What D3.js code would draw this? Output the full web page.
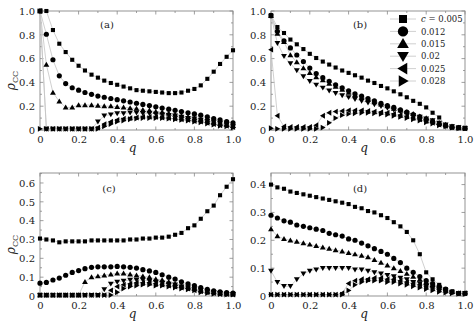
<!DOCTYPE html>
<html>
<head>
<meta charset="utf-8">
<script src="https://cdn.jsdelivr.net/npm/d3@7/dist/d3.min.js"></script>
<style>
  html, body { margin: 0; padding: 0; background: #fff; }
  svg { display: block; }
  svg text { font-family: "DejaVu Serif", "Liberation Serif", serif; fill: #222; }
</style>
</head>
<body>
<svg id="chart" width="474" height="333"></svg>
<script>
// q grid shared by all panels
const qValues = [0, 0.033, 0.067, 0.1, 0.133, 0.167, 0.2, 0.233, 0.267, 0.3,
  0.333, 0.367, 0.4, 0.433, 0.467, 0.5, 0.533, 0.567, 0.6, 0.633,
  0.667, 0.7, 0.733, 0.767, 0.8, 0.833, 0.867, 0.9, 0.933, 0.967, 1.0];

const cLabels = ["c = 0.005", "0.012", "0.015", "0.02", "0.025", "0.028"];
const markerKinds = ["square", "circle", "up", "down", "left", "right"];

// panel (a)
const a005 = [1.0, 1.0, 0.84, 0.725, 0.655, 0.59, 0.54, 0.5, 0.465, 0.44, 0.415, 0.395, 0.38, 0.365, 0.35, 0.335, 0.33, 0.325, 0.32, 0.315, 0.31, 0.31, 0.315, 0.33, 0.345, 0.375, 0.43, 0.49, 0.555, 0.615, 0.67];
const a012 = [1.0, 0.805, 0.59, 0.455, 0.39, 0.355, 0.335, 0.315, 0.3, 0.285, 0.275, 0.265, 0.255, 0.245, 0.235, 0.225, 0.215, 0.205, 0.195, 0.185, 0.175, 0.165, 0.155, 0.145, 0.135, 0.125, 0.11, 0.095, 0.085, 0.07, 0.06];
const a015 = [1.0, 0.55, 0.315, 0.24, 0.19, 0.19, 0.21, 0.21, 0.21, 0.205, 0.2, 0.2, 0.195, 0.19, 0.185, 0.18, 0.17, 0.165, 0.155, 0.15, 0.14, 0.13, 0.12, 0.11, 0.1, 0.09, 0.08, 0.065, 0.055, 0.045, 0.035];
const a020 = [1.0, 0.01, 0.01, 0.01, 0.01, 0.01, 0.01, 0.01, 0.01, 0.07, 0.12, 0.13, 0.14, 0.14, 0.145, 0.145, 0.14, 0.14, 0.135, 0.13, 0.125, 0.12, 0.11, 0.1, 0.095, 0.085, 0.075, 0.065, 0.055, 0.045, 0.03];
const a025 = [1.0, 0.01, 0.01, 0.01, 0.01, 0.01, 0.01, 0.01, 0.01, 0.02, 0.05, 0.07, 0.085, 0.095, 0.1, 0.105, 0.11, 0.11, 0.11, 0.105, 0.1, 0.095, 0.09, 0.085, 0.075, 0.07, 0.06, 0.05, 0.04, 0.035, 0.025];
const a028 = [0.01, 0.01, 0.01, 0.01, 0.01, 0.01, 0.01, 0.01, 0.01, 0.01, 0.03, 0.05, 0.07, 0.08, 0.09, 0.095, 0.1, 0.1, 0.1, 0.1, 0.095, 0.09, 0.085, 0.08, 0.07, 0.065, 0.055, 0.045, 0.035, 0.03, 0.02];

// panel (b)
const b005 = [0.965, 0.865, 0.815, 0.76, 0.72, 0.68, 0.64, 0.605, 0.575, 0.55, 0.525, 0.5, 0.48, 0.46, 0.44, 0.415, 0.395, 0.37, 0.35, 0.325, 0.3, 0.275, 0.245, 0.22, 0.19, 0.145, 0.105, 0.04, 0.02, 0.015, 0.015];
const b012 = [0.96, 0.83, 0.75, 0.69, 0.63, 0.575, 0.52, 0.475, 0.44, 0.41, 0.38, 0.355, 0.33, 0.305, 0.285, 0.265, 0.245, 0.225, 0.205, 0.19, 0.17, 0.15, 0.13, 0.11, 0.09, 0.07, 0.05, 0.035, 0.025, 0.02, 0.015];
const b015 = [0.96, 0.81, 0.74, 0.63, 0.57, 0.52, 0.48, 0.445, 0.42, 0.39, 0.365, 0.34, 0.315, 0.295, 0.275, 0.255, 0.235, 0.215, 0.2, 0.18, 0.165, 0.15, 0.135, 0.115, 0.1, 0.08, 0.06, 0.045, 0.03, 0.02, 0.015];
const b020 = [0.96, 0.73, 0.62, 0.56, 0.5, 0.45, 0.41, 0.38, 0.355, 0.33, 0.31, 0.29, 0.275, 0.26, 0.245, 0.23, 0.215, 0.2, 0.185, 0.17, 0.155, 0.14, 0.125, 0.11, 0.095, 0.08, 0.06, 0.045, 0.03, 0.02, 0.015];
const b025 = [0.675, 0.12, 0.03, 0.025, 0.025, 0.025, 0.025, 0.04, 0.12, 0.145, 0.155, 0.16, 0.165, 0.165, 0.165, 0.16, 0.155, 0.15, 0.145, 0.135, 0.125, 0.115, 0.1, 0.09, 0.075, 0.06, 0.045, 0.035, 0.025, 0.02, 0.015];
const b028 = [0.015, 0.01, 0.01, 0.01, 0.01, 0.01, 0.01, 0.01, 0.02, 0.06, 0.1, 0.125, 0.135, 0.14, 0.145, 0.145, 0.14, 0.135, 0.13, 0.12, 0.11, 0.1, 0.09, 0.08, 0.065, 0.055, 0.04, 0.03, 0.02, 0.015, 0.015];

// panel (c)
const c005 = [0.305, 0.3, 0.295, 0.285, 0.29, 0.29, 0.29, 0.29, 0.295, 0.295, 0.295, 0.295, 0.295, 0.295, 0.3, 0.3, 0.305, 0.305, 0.31, 0.31, 0.315, 0.325, 0.335, 0.36, 0.375, 0.41, 0.45, 0.48, 0.535, 0.58, 0.62];
const c012 = [0.068, 0.072, 0.085, 0.095, 0.11, 0.125, 0.135, 0.145, 0.152, 0.155, 0.155, 0.155, 0.157, 0.155, 0.152, 0.148, 0.14, 0.133, 0.125, 0.113, 0.1, 0.09, 0.075, 0.065, 0.055, 0.045, 0.035, 0.028, 0.022, 0.018, 0.015];
const c015 = [0.005, 0.005, 0.005, 0.005, 0.005, 0.005, 0.005, 0.075, 0.1, 0.105, 0.11, 0.115, 0.12, 0.12, 0.115, 0.11, 0.105, 0.1, 0.09, 0.085, 0.075, 0.065, 0.055, 0.05, 0.04, 0.03, 0.025, 0.02, 0.015, 0.012, 0.01];
const c020 = [0.005, 0.005, 0.005, 0.005, 0.005, 0.005, 0.005, 0.005, 0.005, 0.005, 0.035, 0.065, 0.075, 0.08, 0.085, 0.085, 0.085, 0.08, 0.075, 0.07, 0.065, 0.06, 0.05, 0.045, 0.035, 0.03, 0.025, 0.02, 0.015, 0.01, 0.01];
const c025 = [0.005, 0.005, 0.005, 0.005, 0.005, 0.005, 0.005, 0.005, 0.005, 0.005, 0.005, 0.03, 0.05, 0.06, 0.065, 0.07, 0.07, 0.07, 0.065, 0.06, 0.055, 0.05, 0.045, 0.04, 0.03, 0.025, 0.02, 0.015, 0.01, 0.01, 0.008];
const c028 = [0.005, 0.005, 0.005, 0.005, 0.005, 0.005, 0.005, 0.005, 0.005, 0.005, 0.005, 0.005, 0.02, 0.04, 0.05, 0.055, 0.06, 0.06, 0.055, 0.055, 0.05, 0.045, 0.04, 0.035, 0.03, 0.02, 0.015, 0.012, 0.01, 0.008, 0.008];

// panel (d)
const d005 = [0.4, 0.39, 0.385, 0.375, 0.37, 0.365, 0.36, 0.355, 0.35, 0.345, 0.34, 0.335, 0.33, 0.32, 0.315, 0.305, 0.3, 0.29, 0.28, 0.265, 0.25, 0.23, 0.2, 0.15, 0.085, 0.06, 0.04, 0.025, 0.015, 0.01, 0.01];
const d012 = [0.29, 0.28, 0.27, 0.265, 0.255, 0.25, 0.245, 0.24, 0.235, 0.225, 0.22, 0.215, 0.205, 0.2, 0.19, 0.18, 0.17, 0.16, 0.15, 0.135, 0.12, 0.1, 0.085, 0.07, 0.055, 0.045, 0.035, 0.025, 0.015, 0.01, 0.01];
const d015 = [0.24, 0.215, 0.205, 0.2, 0.195, 0.19, 0.185, 0.18, 0.175, 0.17, 0.165, 0.16, 0.155, 0.15, 0.145, 0.14, 0.13, 0.12, 0.11, 0.1, 0.09, 0.08, 0.07, 0.06, 0.05, 0.04, 0.03, 0.02, 0.015, 0.01, 0.01];
const d020 = [0.09, 0.05, 0.035, 0.035, 0.06, 0.08, 0.09, 0.095, 0.1, 0.1, 0.1, 0.1, 0.1, 0.095, 0.095, 0.09, 0.085, 0.08, 0.075, 0.07, 0.065, 0.06, 0.05, 0.045, 0.035, 0.03, 0.025, 0.02, 0.015, 0.01, 0.01];
const d025 = [0.005, 0.005, 0.005, 0.005, 0.005, 0.005, 0.005, 0.005, 0.005, 0.005, 0.005, 0.01, 0.045, 0.055, 0.06, 0.06, 0.065, 0.065, 0.06, 0.06, 0.055, 0.05, 0.045, 0.04, 0.035, 0.03, 0.025, 0.02, 0.015, 0.01, 0.01];
const d028 = [0.005, 0.005, 0.005, 0.005, 0.005, 0.005, 0.005, 0.005, 0.005, 0.005, 0.005, 0.005, 0.02, 0.04, 0.05, 0.055, 0.055, 0.055, 0.05, 0.05, 0.045, 0.04, 0.035, 0.03, 0.025, 0.02, 0.015, 0.012, 0.01, 0.008, 0.008];

const xTicks = [0, 0.2, 0.4, 0.6, 0.8, 1.0];
const yTicksTop = [0, 0.2, 0.4, 0.6, 0.8, 1.0];
const yTicksC = [0, 0.1, 0.2, 0.3, 0.4, 0.5, 0.6];
const yTicksD = [0, 0.1, 0.2, 0.3, 0.4];

const FONT = "DejaVu Serif, Liberation Serif, serif";
const svg = d3.select("#chart");

// marker path generator, centred on (0,0)
function markerPath(kind, s) {
  const p = d3.path();
  if (kind === "square") {
    p.rect(-s / 2, -s / 2, s, s);
  } else if (kind === "circle") {
    p.moveTo(s * 0.6, 0);
    p.arc(0, 0, s * 0.6, 0, 2 * Math.PI);
  } else {
    const h = s * 1.1, w = s * 0.68;
    let pts;
    if (kind === "up") pts = [[0, -h * 0.6], [w, h * 0.45], [-w, h * 0.45]];
    if (kind === "down") pts = [[0, h * 0.6], [w, -h * 0.45], [-w, -h * 0.45]];
    if (kind === "left") pts = [[-h * 0.6, 0], [h * 0.45, -w], [h * 0.45, w]];
    if (kind === "right") pts = [[h * 0.6, 0], [-h * 0.45, -w], [-h * 0.45, w]];
    p.moveTo(pts[0][0], pts[0][1]);
    p.lineTo(pts[1][0], pts[1][1]);
    p.lineTo(pts[2][0], pts[2][1]);
    p.closePath();
  }
  return p.toString();
}

function drawPanel(cfg) {
  const x = d3.scaleLinear().domain([0, 1]).range([cfg.x0, cfg.x1]);
  const y = d3.scaleLinear().domain([0, cfg.ymax]).range([cfg.y1, cfg.y0]);
  const g = svg.append("g");

  // inward ticks on all four sides
  const yMinor = d3.range(0, cfg.ymax + 1e-9, cfg.minorStep);
  const xMinor = d3.range(0, 1.0001, 0.1);
  const tickG = g.append("g").attr("stroke", "#888").attr("stroke-width", 0.8);
  xMinor.forEach(v => {
    const major = xTicks.some(t => Math.abs(t - v) < 1e-6);
    const len = major ? 3.5 : 2;
    tickG.append("line").attr("x1", x(v)).attr("x2", x(v)).attr("y1", cfg.y1).attr("y2", cfg.y1 - len);
    tickG.append("line").attr("x1", x(v)).attr("x2", x(v)).attr("y1", cfg.y0).attr("y2", cfg.y0 + len);
  });
  yMinor.forEach(v => {
    const major = cfg.yTicks.some(t => Math.abs(t - v) < 1e-6);
    const len = major ? 3.5 : 2;
    tickG.append("line").attr("y1", y(v)).attr("y2", y(v)).attr("x1", cfg.x0).attr("x2", cfg.x0 + len);
    tickG.append("line").attr("y1", y(v)).attr("y2", y(v)).attr("x1", cfg.x1).attr("x2", cfg.x1 - len);
  });

  // frame
  g.append("rect")
    .attr("x", cfg.x0).attr("y", cfg.y0)
    .attr("width", cfg.x1 - cfg.x0).attr("height", cfg.y1 - cfg.y0)
    .attr("fill", "none").attr("stroke", "#888").attr("stroke-width", 0.9);

  // tick labels via axes (tick lines hidden, labels only)
  const xAxis = d3.axisBottom(x).tickValues(xTicks).tickSize(0).tickPadding(6)
    .tickFormat(d => d === 0 ? "0" : d3.format(".1f")(d));
  const xa = g.append("g").attr("transform", `translate(0,${cfg.y1})`).call(xAxis)
    .attr("font-family", FONT);
  xa.select(".domain").remove();
  xa.selectAll("text").attr("font-size", 10).attr("fill", "#222");

  const yAxis = d3.axisLeft(y).tickValues(cfg.yTicks).tickSize(0).tickPadding(5)
    .tickFormat(d => d === 0 ? "0" : d3.format(".1f")(d));
  const ya = g.append("g").attr("transform", `translate(${cfg.x0},0)`).call(yAxis)
    .attr("font-family", FONT);
  ya.select(".domain").remove();
  ya.selectAll("text").attr("font-size", 10).attr("fill", "#222");

  // axis titles
  g.append("text")
    .attr("x", (cfg.x0 + cfg.x1) / 2 - 4).attr("y", cfg.y1 + 22)
    .attr("text-anchor", "middle").attr("font-size", 12).attr("font-style", "italic")
    .text("q");
  if (cfg.showYTitle) {
    const yt = g.append("text")
      .attr("transform", `translate(15,${(cfg.y0 + cfg.y1) / 2 + 10}) rotate(-90)`)
      .attr("text-anchor", "middle").attr("font-size", 12);
    yt.append("tspan").attr("font-style", "italic").text("ρ");
    yt.append("tspan").attr("font-size", 8).attr("dy", 2.5).text("CC");
  }

  // panel letter
  g.append("text")
    .attr("x", cfg.labelX).attr("y", cfg.labelY)
    .attr("text-anchor", "middle").attr("font-size", 10)
    .text(cfg.label);

  // connecting lines then markers
  const line = d3.line().x((d, i) => x(qValues[i])).y(d => y(d));
  cfg.series.forEach(vals => {
    g.append("path").datum(vals)
      .attr("d", line).attr("fill", "none")
      .attr("stroke", "#c4c4c4").attr("stroke-width", 0.8);
  });
  cfg.series.forEach((vals, si) => {
    const kind = markerKinds[si];
    g.append("g").selectAll("path").data(vals).join("path")
      .attr("transform", (d, i) => `translate(${x(qValues[i])},${y(d)})`)
      .attr("d", markerPath(kind, kind === "square" ? 4.1 : 4.3))
      .attr("fill", "#000");
  });
}

drawPanel({ x0: 40, x1: 233, y0: 11, y1: 130, ymax: 1.0, yTicks: yTicksTop, minorStep: 0.1,
  series: [a005, a012, a015, a020, a025, a028], label: "(a)", labelX: 107, labelY: 28, showYTitle: true });
drawPanel({ x0: 271, x1: 465, y0: 11, y1: 130, ymax: 1.0, yTicks: yTicksTop, minorStep: 0.1,
  series: [b005, b012, b015, b020, b025, b028], label: "(b)", labelX: 360, labelY: 28, showYTitle: false });
drawPanel({ x0: 40, x1: 233, y0: 173, y1: 296, ymax: 0.653, yTicks: yTicksC, minorStep: 0.05,
  series: [c005, c012, c015, c020, c025, c028], label: "(c)", labelX: 109, labelY: 192, showYTitle: true });
drawPanel({ x0: 271, x1: 465, y0: 173, y1: 296, ymax: 0.4416, yTicks: yTicksD, minorStep: 0.05,
  series: [d005, d012, d015, d020, d025, d028], label: "(d)", labelX: 360, labelY: 192, showYTitle: false });

// legend inside panel (b)
const legend = svg.append("g");
const legendRows = d3.scaleLinear().domain([0, 5]).range([19, 81]);
cLabels.forEach((lab, i) => {
  const yy = legendRows(i);
  legend.append("line").attr("x1", 390).attr("x2", 416).attr("y1", yy).attr("y2", yy)
    .attr("stroke", "#c4c4c4").attr("stroke-width", 0.8);
  legend.append("path")
    .attr("transform", `translate(403,${yy})`)
    .attr("d", markerPath(markerKinds[i], markerKinds[i] === "square" ? 8 : 8.6))
    .attr("fill", "#000");
  const t = legend.append("text").attr("x", 421).attr("y", yy + 3.2).attr("font-size", 8.5);
  if (i === 0) {
    t.append("tspan").attr("font-style", "italic").text("c");
    t.append("tspan").text(" = 0.005");
  } else {
    t.text(lab);
  }
});
</script>
</body>
</html>
